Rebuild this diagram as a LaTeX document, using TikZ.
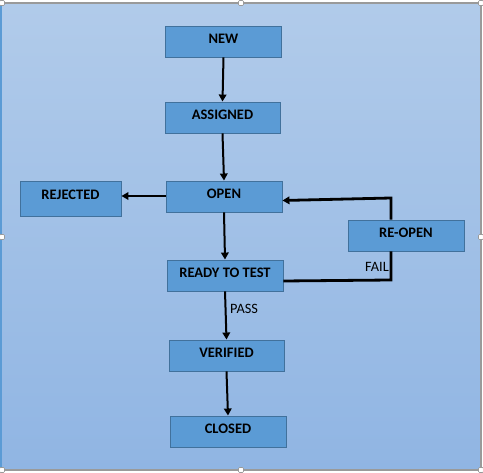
\documentclass[tikz,border=0pt]{standalone}
\usepackage{fontspec}
\setmainfont{Carlito}
\usetikzlibrary{calc,arrows.meta}
\definecolor{boxfill}{HTML}{5B9BD5}
\definecolor{boxline}{HTML}{41719C}
\definecolor{bgtop}{HTML}{B1CBEA}
\definecolor{bgbot}{HTML}{90B5E3}
\definecolor{frame}{HTML}{9A9A9A}
\tikzset{
  state/.style={draw=boxline, line width=0.9pt, fill=boxfill, minimum width=116pt, minimum height=31pt,
    inner sep=0pt, font=\fontsize{14.5}{16}\selectfont\bfseries, text height=10pt, text depth=6.4pt},
  flow/.style={draw=black, line width=2pt, -{Triangle[length=7pt,width=7.5pt]}},
  back/.style={draw=black, line width=2.8pt},
  lbl/.style={inner sep=0pt, font=\fontsize{14.3}{16}\selectfont},
  handle/.style={draw=frame, fill=white, line width=0.6pt, rounded corners=1pt, minimum size=5pt, inner sep=0pt}
}
\begin{document}
\begin{tikzpicture}[x=1pt,y=-1pt]
\useasboundingbox (0,0) rectangle (483,473);
\shade[top color=bgtop, bottom color=bgbot] (1,3) rectangle (481,470);
\draw[frame, line width=1.2pt] (1,3) -- (481,3) -- (481,470) -- (1,470);
\draw[boxfill, line width=1.2pt] (1,3) -- (1,470);
\node[state] (new) at (223.5,41.5) {NEW};
\node[state, minimum width=115pt] (assigned) at (222.5,117.5) {ASSIGNED};
\node[state] (open) at (224,196.5) {OPEN};
\node[state, minimum width=101pt, minimum height=35pt, text depth=8.4pt] (rejected) at (70.5,198.5) {REJECTED};
\node[state] (reopen) at (406,235.5) {RE-OPEN};
\node[state] (ready) at (225,275.5) {READY TO TEST};
\node[state, minimum width=115pt] (verified) at (226.5,355.5) {VERIFIED};
\node[state] (closed) at (228,431.5) {CLOSED};
\draw[flow] (new.south) -- (assigned.north);
\draw[flow] (assigned.south) -- (open.north);
\draw[flow] (open.south) -- (ready.north);
\draw[flow] (ready.south) -- (verified.north);
\draw[flow] (verified.south) -- (closed.north);
\coordinate (ow) at ($(open.west)+(0,-0.5)$);
\draw[flow] (ow) -- (rejected.east |- ow);
\coordinate (rtop) at ($(reopen.north)+(-15,0)$);
\coordinate (rbot) at ($(reopen.south)+(-15,0)$);
\coordinate (c1) at (rtop |- 0,198);
\coordinate (c2) at (rbot |- 0,280);
\draw[back, -{Triangle[length=7pt,width=7.5pt]}, line join=miter] (rtop) -- (c1) -- ($(open.east)+(0,4)$);
\draw[back, line join=miter] ($(ready.east)+(0,5.5)$) -- (c2) -- (rbot);
\node[lbl, anchor=east] (fail) at (389,267) {FAIL};
\node[lbl, anchor=west] (pass) at (230,309) {PASS};
\node[handle] (h1) at (241,3) {};
\node[handle] (h2) at (481,3) {};
\node[handle] (h3) at (2,237) {};
\node[handle] (h4) at (481,237) {};
\node[handle] (h5) at (2,470) {};
\node[handle] (h6) at (241,470) {};
\node[handle] (h7) at (481,470) {};
\node[handle] (h8) at (2,3) {};
\end{tikzpicture}
\end{document}
